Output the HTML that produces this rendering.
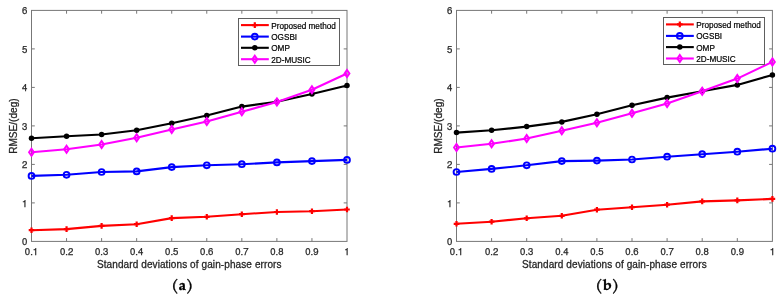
<!DOCTYPE html>
<html><head><meta charset="utf-8"><style>html,body{margin:0;padding:0;background:#fff;width:780px;height:298px;overflow:hidden}svg{display:block}</style></head>
<body><svg width="780" height="298" viewBox="0 0 780 298">
<rect width="780" height="298" fill="#fff"/>
<g stroke="#777777" stroke-width="1" fill="none">
<rect x="31.5" y="10.4" width="315.50" height="231.00"/>
<path d="M66.56 241.4V238.1M66.56 10.4V13.7"/>
<path d="M101.61 241.4V238.1M101.61 10.4V13.7"/>
<path d="M136.67 241.4V238.1M136.67 10.4V13.7"/>
<path d="M171.72 241.4V238.1M171.72 10.4V13.7"/>
<path d="M206.78 241.4V238.1M206.78 10.4V13.7"/>
<path d="M241.83 241.4V238.1M241.83 10.4V13.7"/>
<path d="M276.89 241.4V238.1M276.89 10.4V13.7"/>
<path d="M311.94 241.4V238.1M311.94 10.4V13.7"/>
<path d="M31.5 202.90H34.8M347.0 202.90H343.7"/>
<path d="M31.5 164.40H34.8M347.0 164.40H343.7"/>
<path d="M31.5 125.90H34.8M347.0 125.90H343.7"/>
<path d="M31.5 87.40H34.8M347.0 87.40H343.7"/>
<path d="M31.5 48.90H34.8M347.0 48.90H343.7"/>
</g>
<polyline points="31.50,230.20 66.56,229.10 101.61,225.90 136.67,224.20 171.72,218.10 206.78,216.80 241.83,214.20 276.89,212.00 311.94,211.20 347.00,209.50" stroke="#ff0000" stroke-width="2.1" fill="none" stroke-linejoin="round"/>
<path d="M28.70 230.20H34.30M31.50 227.40V233.00" stroke="#ff0000" stroke-width="2.2" fill="none"/>
<path d="M63.76 229.10H69.36M66.56 226.30V231.90" stroke="#ff0000" stroke-width="2.2" fill="none"/>
<path d="M98.81 225.90H104.41M101.61 223.10V228.70" stroke="#ff0000" stroke-width="2.2" fill="none"/>
<path d="M133.87 224.20H139.47M136.67 221.40V227.00" stroke="#ff0000" stroke-width="2.2" fill="none"/>
<path d="M168.92 218.10H174.52M171.72 215.30V220.90" stroke="#ff0000" stroke-width="2.2" fill="none"/>
<path d="M203.98 216.80H209.58M206.78 214.00V219.60" stroke="#ff0000" stroke-width="2.2" fill="none"/>
<path d="M239.03 214.20H244.63M241.83 211.40V217.00" stroke="#ff0000" stroke-width="2.2" fill="none"/>
<path d="M274.09 212.00H279.69M276.89 209.20V214.80" stroke="#ff0000" stroke-width="2.2" fill="none"/>
<path d="M309.14 211.20H314.74M311.94 208.40V214.00" stroke="#ff0000" stroke-width="2.2" fill="none"/>
<path d="M344.20 209.50H349.80M347.00 206.70V212.30" stroke="#ff0000" stroke-width="2.2" fill="none"/>
<polyline points="31.50,175.90 66.56,174.80 101.61,172.00 136.67,171.40 171.72,167.10 206.78,165.30 241.83,164.20 276.89,162.40 311.94,161.10 347.00,159.90" stroke="#0000ff" stroke-width="2.1" fill="none" stroke-linejoin="round"/>
<circle cx="31.50" cy="175.90" r="2.9" stroke="#0000ff" stroke-width="1.9" fill="none"/>
<circle cx="66.56" cy="174.80" r="2.9" stroke="#0000ff" stroke-width="1.9" fill="none"/>
<circle cx="101.61" cy="172.00" r="2.9" stroke="#0000ff" stroke-width="1.9" fill="none"/>
<circle cx="136.67" cy="171.40" r="2.9" stroke="#0000ff" stroke-width="1.9" fill="none"/>
<circle cx="171.72" cy="167.10" r="2.9" stroke="#0000ff" stroke-width="1.9" fill="none"/>
<circle cx="206.78" cy="165.30" r="2.9" stroke="#0000ff" stroke-width="1.9" fill="none"/>
<circle cx="241.83" cy="164.20" r="2.9" stroke="#0000ff" stroke-width="1.9" fill="none"/>
<circle cx="276.89" cy="162.40" r="2.9" stroke="#0000ff" stroke-width="1.9" fill="none"/>
<circle cx="311.94" cy="161.10" r="2.9" stroke="#0000ff" stroke-width="1.9" fill="none"/>
<circle cx="347.00" cy="159.90" r="2.9" stroke="#0000ff" stroke-width="1.9" fill="none"/>
<polyline points="31.50,138.20 66.56,136.20 101.61,134.50 136.67,130.20 171.72,123.20 206.78,115.40 241.83,106.60 276.89,101.80 311.94,93.90 347.00,85.50" stroke="#000000" stroke-width="2.1" fill="none" stroke-linejoin="round"/>
<circle cx="31.50" cy="138.20" r="2.75" fill="#000000"/>
<circle cx="66.56" cy="136.20" r="2.75" fill="#000000"/>
<circle cx="101.61" cy="134.50" r="2.75" fill="#000000"/>
<circle cx="136.67" cy="130.20" r="2.75" fill="#000000"/>
<circle cx="171.72" cy="123.20" r="2.75" fill="#000000"/>
<circle cx="206.78" cy="115.40" r="2.75" fill="#000000"/>
<circle cx="241.83" cy="106.60" r="2.75" fill="#000000"/>
<circle cx="276.89" cy="101.80" r="2.75" fill="#000000"/>
<circle cx="311.94" cy="93.90" r="2.75" fill="#000000"/>
<circle cx="347.00" cy="85.50" r="2.75" fill="#000000"/>
<polyline points="31.50,152.20 66.56,149.20 101.61,144.50 136.67,137.70 171.72,129.40 206.78,121.60 241.83,111.80 276.89,101.90 311.94,89.80 347.00,73.50" stroke="#ff00ff" stroke-width="2.1" fill="none" stroke-linejoin="round"/>
<path d="M31.50 148.70L33.90 152.20L31.50 155.70L29.10 152.20Z" stroke="#ff00ff" stroke-width="2.0" fill="none"/>
<path d="M66.56 145.70L68.96 149.20L66.56 152.70L64.16 149.20Z" stroke="#ff00ff" stroke-width="2.0" fill="none"/>
<path d="M101.61 141.00L104.01 144.50L101.61 148.00L99.21 144.50Z" stroke="#ff00ff" stroke-width="2.0" fill="none"/>
<path d="M136.67 134.20L139.07 137.70L136.67 141.20L134.27 137.70Z" stroke="#ff00ff" stroke-width="2.0" fill="none"/>
<path d="M171.72 125.90L174.12 129.40L171.72 132.90L169.32 129.40Z" stroke="#ff00ff" stroke-width="2.0" fill="none"/>
<path d="M206.78 118.10L209.18 121.60L206.78 125.10L204.38 121.60Z" stroke="#ff00ff" stroke-width="2.0" fill="none"/>
<path d="M241.83 108.30L244.23 111.80L241.83 115.30L239.43 111.80Z" stroke="#ff00ff" stroke-width="2.0" fill="none"/>
<path d="M276.89 98.40L279.29 101.90L276.89 105.40L274.49 101.90Z" stroke="#ff00ff" stroke-width="2.0" fill="none"/>
<path d="M311.94 86.30L314.34 89.80L311.94 93.30L309.54 89.80Z" stroke="#ff00ff" stroke-width="2.0" fill="none"/>
<path d="M347.00 70.00L349.40 73.50L347.00 77.00L344.60 73.50Z" stroke="#ff00ff" stroke-width="2.0" fill="none"/>
<g font-family="TeX Gyre Heros, Liberation Sans, Arial, Helvetica, sans-serif" font-size="9.6" fill="#262626" stroke="#262626" stroke-width="0.25">
<text x="27.3" y="245.1" text-anchor="end">0</text>
<text x="27.3" y="206.6" text-anchor="end">1</text>
<text x="27.3" y="168.1" text-anchor="end">2</text>
<text x="27.3" y="129.6" text-anchor="end">3</text>
<text x="27.3" y="91.1" text-anchor="end">4</text>
<text x="27.3" y="52.6" text-anchor="end">5</text>
<text x="27.3" y="14.1" text-anchor="end">6</text>
<text x="31.50" y="254.8" text-anchor="middle">0.1</text>
<text x="66.56" y="254.8" text-anchor="middle">0.2</text>
<text x="101.61" y="254.8" text-anchor="middle">0.3</text>
<text x="136.67" y="254.8" text-anchor="middle">0.4</text>
<text x="171.72" y="254.8" text-anchor="middle">0.5</text>
<text x="206.78" y="254.8" text-anchor="middle">0.6</text>
<text x="241.83" y="254.8" text-anchor="middle">0.7</text>
<text x="276.89" y="254.8" text-anchor="middle">0.8</text>
<text x="311.94" y="254.8" text-anchor="middle">0.9</text>
<text x="347.00" y="254.8" text-anchor="middle">1</text>
</g>
<text x="189.3" y="268.4" text-anchor="middle" font-family="Liberation Sans, Arial, Helvetica, sans-serif" font-size="10" letter-spacing="0.1" fill="#262626" stroke="#262626" stroke-width="0.28">Standard deviations of gain-phase errors</text>
<text transform="translate(16.9,126.1) rotate(-90)" text-anchor="middle" font-family="Liberation Sans, Arial, Helvetica, sans-serif" font-size="10.1" fill="#262626" stroke="#262626" stroke-width="0.28">RMSE/(deg)</text>
<rect x="238.5" y="18.5" width="101.0" height="47.0" fill="#fff" stroke="#5e5e5e" stroke-width="1" shape-rendering="crispEdges"/>
<path d="M241 25.1H268.8" stroke="#ff0000" stroke-width="2.1"/>
<path d="M252.00 25.10H257.60M254.80 22.30V27.90" stroke="#ff0000" stroke-width="2.2" fill="none"/>
<text x="271.2" y="28.6" font-family="Liberation Sans, Arial, Helvetica, sans-serif" font-size="8.2" fill="#000" stroke="#000" stroke-width="0.2">Proposed method</text>
<path d="M241 36.6H268.8" stroke="#0000ff" stroke-width="2.1"/>
<circle cx="254.80" cy="36.60" r="2.9" stroke="#0000ff" stroke-width="1.9" fill="none"/>
<text x="271.2" y="40.1" font-family="Liberation Sans, Arial, Helvetica, sans-serif" font-size="8.2" fill="#000" stroke="#000" stroke-width="0.2">OGSBI</text>
<path d="M241 47.8H268.8" stroke="#000000" stroke-width="2.1"/>
<circle cx="254.80" cy="47.80" r="2.75" fill="#000000"/>
<text x="271.2" y="51.2" font-family="Liberation Sans, Arial, Helvetica, sans-serif" font-size="8.2" fill="#000" stroke="#000" stroke-width="0.2">OMP</text>
<path d="M241 59.2H268.8" stroke="#ff00ff" stroke-width="2.1"/>
<path d="M254.80 55.70L257.20 59.20L254.80 62.70L252.40 59.20Z" stroke="#ff00ff" stroke-width="2.0" fill="none"/>
<text x="271.2" y="62.7" font-family="Liberation Sans, Arial, Helvetica, sans-serif" font-size="8.2" fill="#000" stroke="#000" stroke-width="0.2">2D-MUSIC</text>
<text x="182.25" y="290" text-anchor="middle" font-family="TeX Gyre Pagella, Palatino Linotype, Palatino, Liberation Serif, serif" font-size="15" font-weight="bold" fill="#000" stroke="#000" stroke-width="0.3">(a)</text>
<g stroke="#777777" stroke-width="1" fill="none">
<rect x="456.5" y="10.4" width="315.90" height="231.00"/>
<path d="M491.60 241.4V238.1M491.60 10.4V13.7"/>
<path d="M526.70 241.4V238.1M526.70 10.4V13.7"/>
<path d="M561.80 241.4V238.1M561.80 10.4V13.7"/>
<path d="M596.90 241.4V238.1M596.90 10.4V13.7"/>
<path d="M632.00 241.4V238.1M632.00 10.4V13.7"/>
<path d="M667.10 241.4V238.1M667.10 10.4V13.7"/>
<path d="M702.20 241.4V238.1M702.20 10.4V13.7"/>
<path d="M737.30 241.4V238.1M737.30 10.4V13.7"/>
<path d="M456.5 202.90H459.8M772.4 202.90H769.1"/>
<path d="M456.5 164.40H459.8M772.4 164.40H769.1"/>
<path d="M456.5 125.90H459.8M772.4 125.90H769.1"/>
<path d="M456.5 87.40H459.8M772.4 87.40H769.1"/>
<path d="M456.5 48.90H459.8M772.4 48.90H769.1"/>
</g>
<polyline points="456.50,223.80 491.60,221.70 526.70,218.30 561.80,215.80 596.90,209.70 632.00,207.20 667.10,204.70 702.20,201.40 737.30,200.40 772.40,198.90" stroke="#ff0000" stroke-width="2.1" fill="none" stroke-linejoin="round"/>
<path d="M453.70 223.80H459.30M456.50 221.00V226.60" stroke="#ff0000" stroke-width="2.2" fill="none"/>
<path d="M488.80 221.70H494.40M491.60 218.90V224.50" stroke="#ff0000" stroke-width="2.2" fill="none"/>
<path d="M523.90 218.30H529.50M526.70 215.50V221.10" stroke="#ff0000" stroke-width="2.2" fill="none"/>
<path d="M559.00 215.80H564.60M561.80 213.00V218.60" stroke="#ff0000" stroke-width="2.2" fill="none"/>
<path d="M594.10 209.70H599.70M596.90 206.90V212.50" stroke="#ff0000" stroke-width="2.2" fill="none"/>
<path d="M629.20 207.20H634.80M632.00 204.40V210.00" stroke="#ff0000" stroke-width="2.2" fill="none"/>
<path d="M664.30 204.70H669.90M667.10 201.90V207.50" stroke="#ff0000" stroke-width="2.2" fill="none"/>
<path d="M699.40 201.40H705.00M702.20 198.60V204.20" stroke="#ff0000" stroke-width="2.2" fill="none"/>
<path d="M734.50 200.40H740.10M737.30 197.60V203.20" stroke="#ff0000" stroke-width="2.2" fill="none"/>
<path d="M769.60 198.90H775.20M772.40 196.10V201.70" stroke="#ff0000" stroke-width="2.2" fill="none"/>
<polyline points="456.50,172.00 491.60,168.90 526.70,165.30 561.80,161.10 596.90,160.60 632.00,159.50 667.10,156.70 702.20,154.20 737.30,151.70 772.40,148.70" stroke="#0000ff" stroke-width="2.1" fill="none" stroke-linejoin="round"/>
<circle cx="456.50" cy="172.00" r="2.9" stroke="#0000ff" stroke-width="1.9" fill="none"/>
<circle cx="491.60" cy="168.90" r="2.9" stroke="#0000ff" stroke-width="1.9" fill="none"/>
<circle cx="526.70" cy="165.30" r="2.9" stroke="#0000ff" stroke-width="1.9" fill="none"/>
<circle cx="561.80" cy="161.10" r="2.9" stroke="#0000ff" stroke-width="1.9" fill="none"/>
<circle cx="596.90" cy="160.60" r="2.9" stroke="#0000ff" stroke-width="1.9" fill="none"/>
<circle cx="632.00" cy="159.50" r="2.9" stroke="#0000ff" stroke-width="1.9" fill="none"/>
<circle cx="667.10" cy="156.70" r="2.9" stroke="#0000ff" stroke-width="1.9" fill="none"/>
<circle cx="702.20" cy="154.20" r="2.9" stroke="#0000ff" stroke-width="1.9" fill="none"/>
<circle cx="737.30" cy="151.70" r="2.9" stroke="#0000ff" stroke-width="1.9" fill="none"/>
<circle cx="772.40" cy="148.70" r="2.9" stroke="#0000ff" stroke-width="1.9" fill="none"/>
<polyline points="456.50,132.60 491.60,130.30 526.70,126.60 561.80,121.90 596.90,114.30 632.00,105.20 667.10,97.60 702.20,91.30 737.30,84.90 772.40,75.00" stroke="#000000" stroke-width="2.1" fill="none" stroke-linejoin="round"/>
<circle cx="456.50" cy="132.60" r="2.75" fill="#000000"/>
<circle cx="491.60" cy="130.30" r="2.75" fill="#000000"/>
<circle cx="526.70" cy="126.60" r="2.75" fill="#000000"/>
<circle cx="561.80" cy="121.90" r="2.75" fill="#000000"/>
<circle cx="596.90" cy="114.30" r="2.75" fill="#000000"/>
<circle cx="632.00" cy="105.20" r="2.75" fill="#000000"/>
<circle cx="667.10" cy="97.60" r="2.75" fill="#000000"/>
<circle cx="702.20" cy="91.30" r="2.75" fill="#000000"/>
<circle cx="737.30" cy="84.90" r="2.75" fill="#000000"/>
<circle cx="772.40" cy="75.00" r="2.75" fill="#000000"/>
<polyline points="456.50,147.50 491.60,143.80 526.70,138.50 561.80,130.80 596.90,122.70 632.00,113.30 667.10,103.50 702.20,91.30 737.30,78.60 772.40,61.90" stroke="#ff00ff" stroke-width="2.1" fill="none" stroke-linejoin="round"/>
<path d="M456.50 144.00L458.90 147.50L456.50 151.00L454.10 147.50Z" stroke="#ff00ff" stroke-width="2.0" fill="none"/>
<path d="M491.60 140.30L494.00 143.80L491.60 147.30L489.20 143.80Z" stroke="#ff00ff" stroke-width="2.0" fill="none"/>
<path d="M526.70 135.00L529.10 138.50L526.70 142.00L524.30 138.50Z" stroke="#ff00ff" stroke-width="2.0" fill="none"/>
<path d="M561.80 127.30L564.20 130.80L561.80 134.30L559.40 130.80Z" stroke="#ff00ff" stroke-width="2.0" fill="none"/>
<path d="M596.90 119.20L599.30 122.70L596.90 126.20L594.50 122.70Z" stroke="#ff00ff" stroke-width="2.0" fill="none"/>
<path d="M632.00 109.80L634.40 113.30L632.00 116.80L629.60 113.30Z" stroke="#ff00ff" stroke-width="2.0" fill="none"/>
<path d="M667.10 100.00L669.50 103.50L667.10 107.00L664.70 103.50Z" stroke="#ff00ff" stroke-width="2.0" fill="none"/>
<path d="M702.20 87.80L704.60 91.30L702.20 94.80L699.80 91.30Z" stroke="#ff00ff" stroke-width="2.0" fill="none"/>
<path d="M737.30 75.10L739.70 78.60L737.30 82.10L734.90 78.60Z" stroke="#ff00ff" stroke-width="2.0" fill="none"/>
<path d="M772.40 58.40L774.80 61.90L772.40 65.40L770.00 61.90Z" stroke="#ff00ff" stroke-width="2.0" fill="none"/>
<g font-family="TeX Gyre Heros, Liberation Sans, Arial, Helvetica, sans-serif" font-size="9.6" fill="#262626" stroke="#262626" stroke-width="0.25">
<text x="452.3" y="245.1" text-anchor="end">0</text>
<text x="452.3" y="206.6" text-anchor="end">1</text>
<text x="452.3" y="168.1" text-anchor="end">2</text>
<text x="452.3" y="129.6" text-anchor="end">3</text>
<text x="452.3" y="91.1" text-anchor="end">4</text>
<text x="452.3" y="52.6" text-anchor="end">5</text>
<text x="452.3" y="14.1" text-anchor="end">6</text>
<text x="456.50" y="254.8" text-anchor="middle">0.1</text>
<text x="491.60" y="254.8" text-anchor="middle">0.2</text>
<text x="526.70" y="254.8" text-anchor="middle">0.3</text>
<text x="561.80" y="254.8" text-anchor="middle">0.4</text>
<text x="596.90" y="254.8" text-anchor="middle">0.5</text>
<text x="632.00" y="254.8" text-anchor="middle">0.6</text>
<text x="667.10" y="254.8" text-anchor="middle">0.7</text>
<text x="702.20" y="254.8" text-anchor="middle">0.8</text>
<text x="737.30" y="254.8" text-anchor="middle">0.9</text>
<text x="772.40" y="254.8" text-anchor="middle">1</text>
</g>
<text x="614.4" y="268.4" text-anchor="middle" font-family="Liberation Sans, Arial, Helvetica, sans-serif" font-size="10" letter-spacing="0.1" fill="#262626" stroke="#262626" stroke-width="0.28">Standard deviations of gain-phase errors</text>
<text transform="translate(441.9,126.1) rotate(-90)" text-anchor="middle" font-family="Liberation Sans, Arial, Helvetica, sans-serif" font-size="10.1" fill="#262626" stroke="#262626" stroke-width="0.28">RMSE/(deg)</text>
<rect x="663.5" y="17.5" width="101.0" height="47.0" fill="#fff" stroke="#5e5e5e" stroke-width="1" shape-rendering="crispEdges"/>
<path d="M666 24.400000000000002H693.8" stroke="#ff0000" stroke-width="2.1"/>
<path d="M677.00 24.40H682.60M679.80 21.60V27.20" stroke="#ff0000" stroke-width="2.2" fill="none"/>
<text x="696.2" y="27.9" font-family="Liberation Sans, Arial, Helvetica, sans-serif" font-size="8.2" fill="#000" stroke="#000" stroke-width="0.2">Proposed method</text>
<path d="M666 35.9H693.8" stroke="#0000ff" stroke-width="2.1"/>
<circle cx="679.80" cy="35.90" r="2.9" stroke="#0000ff" stroke-width="1.9" fill="none"/>
<text x="696.2" y="39.4" font-family="Liberation Sans, Arial, Helvetica, sans-serif" font-size="8.2" fill="#000" stroke="#000" stroke-width="0.2">OGSBI</text>
<path d="M666 47.099999999999994H693.8" stroke="#000000" stroke-width="2.1"/>
<circle cx="679.80" cy="47.10" r="2.75" fill="#000000"/>
<text x="696.2" y="50.5" font-family="Liberation Sans, Arial, Helvetica, sans-serif" font-size="8.2" fill="#000" stroke="#000" stroke-width="0.2">OMP</text>
<path d="M666 58.5H693.8" stroke="#ff00ff" stroke-width="2.1"/>
<path d="M679.80 55.00L682.20 58.50L679.80 62.00L677.40 58.50Z" stroke="#ff00ff" stroke-width="2.0" fill="none"/>
<text x="696.2" y="62.0" font-family="Liberation Sans, Arial, Helvetica, sans-serif" font-size="8.2" fill="#000" stroke="#000" stroke-width="0.2">2D-MUSIC</text>
<text x="607.25" y="290" text-anchor="middle" font-family="TeX Gyre Pagella, Palatino Linotype, Palatino, Liberation Serif, serif" font-size="15" font-weight="bold" fill="#000" stroke="#000" stroke-width="0.3">(b)</text>
</svg></body></html>
